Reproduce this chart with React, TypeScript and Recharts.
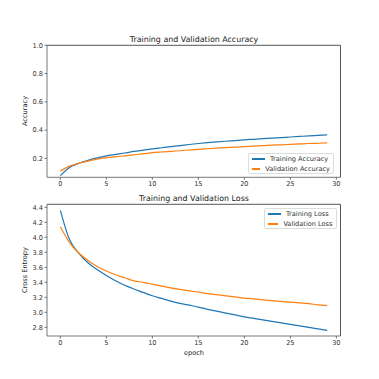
import { Line, LineChart, XAxis, YAxis } from "recharts";

const epochs = Array.from({ length: 30 }, (_, i) => i);

const trainAcc = [
  0.078, 0.135, 0.165, 0.186, 0.203, 0.218, 0.228, 0.238, 0.249, 0.258,
  0.267, 0.275, 0.283, 0.29, 0.298, 0.305, 0.311, 0.316, 0.321, 0.326,
  0.331, 0.335, 0.339, 0.343, 0.347, 0.351, 0.355, 0.359, 0.362, 0.366,
];
const valAcc = [
  0.11, 0.145, 0.165, 0.18, 0.195, 0.205, 0.212, 0.218, 0.225, 0.232,
  0.24, 0.245, 0.25, 0.254, 0.259, 0.264, 0.268, 0.272, 0.276, 0.28,
  0.283, 0.287, 0.29, 0.294, 0.296, 0.299, 0.302, 0.305, 0.307, 0.31,
];
const trainLoss = [
  4.36, 3.97, 3.79, 3.66, 3.57, 3.49, 3.42, 3.36, 3.31, 3.265,
  3.22, 3.185, 3.15, 3.12, 3.095, 3.07, 3.04, 3.015, 2.99, 2.965,
  2.94, 2.92, 2.9, 2.88, 2.86, 2.84, 2.82, 2.8, 2.78, 2.76,
];
const valLoss = [
  4.14, 3.93, 3.79, 3.69, 3.61, 3.55, 3.5, 3.46, 3.42, 3.4,
  3.375, 3.35, 3.325, 3.305, 3.285, 3.27, 3.25, 3.235, 3.22, 3.205,
  3.19, 3.18, 3.165, 3.155, 3.145, 3.135, 3.125, 3.115, 3.1, 3.09,
];

const xTicks = [0, 5, 10, 15, 20, 25, 30];
const accTicks = [0.2, 0.4, 0.6, 0.8, 1.0];
const lossTicks = [2.8, 3.0, 3.2, 3.4, 3.6, 3.8, 4.0, 4.2, 4.4];

const accData = epochs.map((e, i) => ({ epoch: e, train: trainAcc[i], val: valAcc[i] }));
const lossData = epochs.map((e, i) => ({ epoch: e, train: trainLoss[i], val: valLoss[i] }));

const BLUE = "#1f77b4";
const ORANGE = "#ff7f0e";
const FONT = "DejaVu Sans";
const X_DOMAIN: [number, number] = [-1.45, 30.45];
const tickStyle = { fontSize: 6.6, fill: "#333", fontFamily: FONT };
const axisStroke = "#555";

const PLOT_LEFT = 47;
const PLOT_RIGHT = 38.5;

function Legend({ items, style }: { items: [string, string][]; style: React.CSSProperties }) {
  return (
    <div
      style={{
        position: "absolute",
        border: "1px solid #dcdcdc",
        borderRadius: 2,
        background: "rgba(255,255,255,0.8)",
        fontFamily: FONT,
        fontSize: 6.6,
        color: "#333",
        padding: "0.5px 3px",
        boxSizing: "border-box",
        whiteSpace: "nowrap",
        ...style,
      }}
    >
      {items.map(([label, color]) => (
        <div key={label} style={{ display: "flex", alignItems: "center", height: 10 }}>
          <span style={{ width: 13, height: 1.1, background: color, marginRight: 5, display: "inline-block" }} />
          {label}
        </div>
      ))}
    </div>
  );
}

function Panel({
  data, top, height, ticks, domain, xHeight,
}: {
  data: { epoch: number; train: number; val: number }[];
  top: number; height: number; ticks: number[]; domain: [number, number]; xHeight: number;
}) {
  const right = 379 - PLOT_RIGHT;
  const bottom = height - xHeight;
  return (
    <div style={{ position: "absolute", left: 0, top: 0, width: 379, height }}>
      <LineChart
        width={379}
        height={height}
        data={data}
        margin={{ top, right: PLOT_RIGHT, left: 0, bottom: 0 }}
      >
        <XAxis
          dataKey="epoch"
          type="number"
          domain={X_DOMAIN}
          ticks={xTicks}
          allowDataOverflow
          height={xHeight}
          tick={tickStyle}
          tickSize={2.5}
          tickMargin={1.5}
          stroke={axisStroke}
          strokeWidth={0.8}
        />
        <YAxis
          type="number"
          domain={domain}
          ticks={ticks}
          allowDataOverflow
          width={PLOT_LEFT}
          tick={tickStyle}
          tickSize={2.5}
          tickMargin={1.5}
          tickFormatter={(v: number) => v.toFixed(1)}
          stroke={axisStroke}
          strokeWidth={0.8}
        />
        <Line type="monotone" dataKey="train" stroke={BLUE} strokeWidth={1.2} dot={false} isAnimationActive={false} />
        <Line type="monotone" dataKey="val" stroke={ORANGE} strokeWidth={1.2} dot={false} isAnimationActive={false} />
      </LineChart>
      {/* top and right spines */}
      <svg
        width={379}
        height={height}
        style={{ position: "absolute", left: 0, top: 0, pointerEvents: "none" }}
      >
        <path
          d={`M${PLOT_LEFT},${top} L${right},${top} L${right},${bottom}`}
          fill="none"
          stroke={axisStroke}
          strokeWidth={1}
        />
      </svg>
    </div>
  );
}

const textStyle: React.CSSProperties = {
  position: "absolute",
  fontFamily: FONT,
  color: "#222",
  whiteSpace: "nowrap",
};

export default function App() {
  return (
    <div style={{ position: "fixed", left: 0, top: 0, width: 379, height: 379, background: "#fff" }}>
      <Panel data={accData} top={45.3} height={200} ticks={accTicks} domain={[0.066, 1.0]} xHeight={22.7} />
      <Panel data={lossData} top={204.3} height={360} ticks={lossTicks} domain={[2.684, 4.44]} xHeight={24} />

      <div style={{ ...textStyle, left: 194, top: 39, fontSize: 7.9, transform: "translate(-50%,-50%)" }}>
        Training and Validation Accuracy
      </div>
      <div style={{ ...textStyle, left: 194, top: 198, fontSize: 7.9, transform: "translate(-50%,-50%)" }}>
        Training and Validation Loss
      </div>
      <div style={{ ...textStyle, left: 25, top: 111, fontSize: 6.6, transform: "translate(-50%,-50%) rotate(-90deg)" }}>
        Accuracy
      </div>
      <div style={{ ...textStyle, left: 25, top: 270, fontSize: 6.6, transform: "translate(-50%,-50%) rotate(-90deg)" }}>
        Cross Entropy
      </div>
      <div style={{ ...textStyle, left: 194, top: 353, fontSize: 6.6, transform: "translate(-50%,-50%)" }}>
        epoch
      </div>

      <Legend
        items={[["Training Accuracy", BLUE], ["Validation Accuracy", ORANGE]]}
        style={{ left: 248, top: 152.5, width: 86, height: 21.5 }}
      />
      <Legend
        items={[["Training Loss", BLUE], ["Validation Loss", ORANGE]]}
        style={{ left: 264, top: 207.5, width: 72.5, height: 21 }}
      />
    </div>
  );
}
